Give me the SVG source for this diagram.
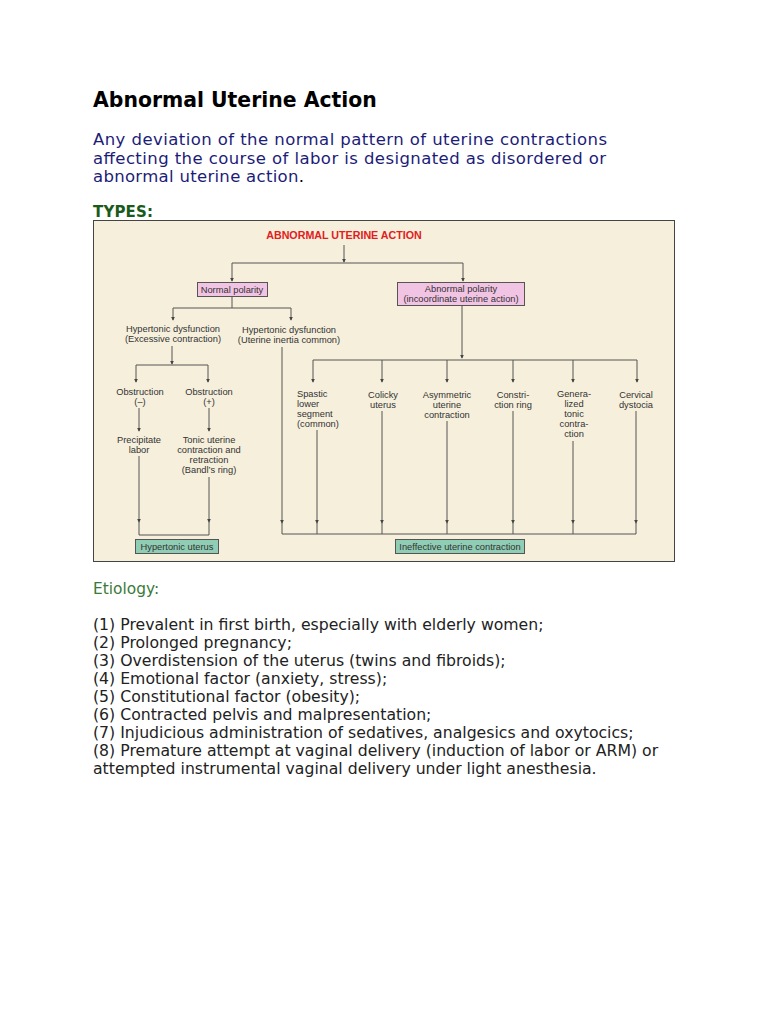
<svg xmlns="http://www.w3.org/2000/svg" width="768" height="1024" viewBox="0 0 768 1024">
<defs>
<marker id="ah" viewBox="0 0 6 6" refX="5" refY="3" markerWidth="4" markerHeight="4" orient="auto" markerUnits="userSpaceOnUse">
<path d="M0,0 L6,3 L0,6 z" fill="#444"/>
</marker>
<style>
.title{font-family:"DejaVu Sans",Verdana,sans-serif;font-weight:bold;font-size:20.4px;fill:#000}
.intro{font-family:"DejaVu Sans",Verdana,sans-serif;font-size:16.5px;fill:#1c1c78}
.types{font-family:"DejaVu Sans",Verdana,sans-serif;font-size:15px;font-weight:bold;fill:#1a5a1a}
.etio{font-family:"DejaVu Sans",Verdana,sans-serif;font-size:15.4px;fill:#3a7a3a}
.item{font-family:"DejaVu Sans",Verdana,sans-serif;font-size:15.7px;fill:#222}
.lbl{font-family:"Liberation Sans",Arial,sans-serif;font-size:9.3px;fill:#333;text-anchor:middle}
.lbll{font-family:"Liberation Sans",Arial,sans-serif;font-size:9.3px;fill:#333}
.head{font-family:"Liberation Sans",Arial,sans-serif;font-size:10.7px;font-weight:bold;fill:#e02020;text-anchor:middle}
.ln{stroke:#555;stroke-width:1;fill:none}
.arr{stroke:#555;stroke-width:1;fill:none;marker-end:url(#ah)}
.pink{fill:#f2c4e4;stroke:#555;stroke-width:1}
.teal{fill:#8fcdb4;stroke:#555;stroke-width:1}
</style>
</defs>
<rect width="768" height="1024" fill="#fff"/>
<text class="title" x="93" y="107">Abnormal Uterine Action</text>
<text class="intro" x="93" y="145" textLength="514" lengthAdjust="spacing">Any deviation of the normal pattern of uterine contractions</text>
<text class="intro" x="93" y="164" textLength="513" lengthAdjust="spacing">affecting the course of labor is designated as disordered or</text>
<text class="intro" x="93" y="182" textLength="211" lengthAdjust="spacing">abnormal uterine action<tspan fill="#000">.</tspan></text>
<text class="types" x="93" y="217" textLength="60" lengthAdjust="spacing">TYPES:</text>

<rect x="93.5" y="220.5" width="581" height="341" fill="#f6efdc" stroke="#444" stroke-width="1"/>

<g id="connectors">
<path class="arr" d="M344,245 V262"/>
<path class="ln" d="M232,263 H463"/>
<path class="arr" d="M232,263 V281"/>
<path class="arr" d="M463,263 V281"/>
<path class="ln" d="M232,297 V308 M173,308 H291"/>
<path class="arr" d="M173,308 V320"/>
<path class="arr" d="M291,308 V320"/>
<path class="arr" d="M172,346 V364"/>
<path class="ln" d="M136,365 H208"/>
<path class="arr" d="M136,365 V382"/>
<path class="arr" d="M208,365 V382"/>
<path class="arr" d="M139,408 V431"/>
<path class="arr" d="M209,408 V431"/>
<path class="arr" d="M139,456 V522"/>
<path class="arr" d="M209,477 V522"/>
<path class="ln" d="M139,522 V535 H209 V522"/>
<path class="arr" d="M462,306 V358"/>
<path class="ln" d="M313,360 H637"/>
<path class="arr" d="M313,360 V382"/>
<path class="arr" d="M382,360 V382"/>
<path class="arr" d="M447,360 V382"/>
<path class="arr" d="M513,360 V382"/>
<path class="arr" d="M573,360 V382"/>
<path class="arr" d="M637,360 V382"/>
<path class="arr" d="M282,347 V523"/>
<path class="arr" d="M317,430 V523"/>
<path class="arr" d="M382,411 V523"/>
<path class="arr" d="M447,421 V523"/>
<path class="arr" d="M513,411 V523"/>
<path class="arr" d="M573,441 V523"/>
<path class="arr" d="M636,411 V523"/>
<path class="ln" d="M282,523 V534 H636 V523 M317,523 V534 M382,523 V534 M447,523 V534 M513,523 V534 M573,523 V534"/>
</g>

<g id="n-root"><text class="head" x="344" y="239">ABNORMAL UTERINE ACTION</text></g>
<g id="n-normal"><rect class="pink" x="197.5" y="282.5" width="70" height="14"/><text class="lbl" x="232" y="293">Normal polarity</text></g>
<g id="n-abnormal"><rect class="pink" x="397.5" y="282.5" width="127" height="23"/><text class="lbl" x="461" y="292">Abnormal polarity</text><text class="lbl" x="461" y="302">(incoordinate uterine action)</text></g>
<g id="n-hyper1"><text class="lbl" x="173" y="332">Hypertonic dysfunction</text><text class="lbl" x="173" y="342">(Excessive contraction)</text></g>
<g id="n-hyper2"><text class="lbl" x="289" y="333">Hypertonic dysfunction</text><text class="lbl" x="289" y="343">(Uterine inertia common)</text></g>
<g id="n-obsneg"><text class="lbl" x="140" y="395">Obstruction</text><text class="lbl" x="140" y="405">(–)</text></g>
<g id="n-obspos"><text class="lbl" x="209" y="395">Obstruction</text><text class="lbl" x="209" y="405">(+)</text></g>
<g id="n-precip"><text class="lbl" x="139" y="443">Precipitate</text><text class="lbl" x="139" y="453">labor</text></g>
<g id="n-tonic"><text class="lbl" x="209" y="443">Tonic uterine</text><text class="lbl" x="209" y="453">contraction and</text><text class="lbl" x="209" y="463">retraction</text><text class="lbl" x="209" y="473">(Bandl’s ring)</text></g>
<g id="n-hyperut"><rect class="teal" x="135.5" y="539.5" width="83" height="14"/><text class="lbl" x="177" y="550">Hypertonic uterus</text></g>
<g id="n-spastic"><text class="lbll" x="297" y="397">Spastic</text><text class="lbll" x="297" y="407">lower</text><text class="lbll" x="297" y="417">segment</text><text class="lbll" x="297" y="427">(common)</text></g>
<g id="n-colicky"><text class="lbl" x="383" y="398">Colicky</text><text class="lbl" x="383" y="408">uterus</text></g>
<g id="n-asym"><text class="lbl" x="447" y="398">Asymmetric</text><text class="lbl" x="447" y="408">uterine</text><text class="lbl" x="447" y="418">contraction</text></g>
<g id="n-constr"><text class="lbl" x="513" y="398">Constri-</text><text class="lbl" x="513" y="408">ction ring</text></g>
<g id="n-gen"><text class="lbl" x="574" y="397">Genera-</text><text class="lbl" x="574" y="407">lized</text><text class="lbl" x="574" y="417">tonic</text><text class="lbl" x="574" y="427">contra-</text><text class="lbl" x="574" y="437">ction</text></g>
<g id="n-cerv"><text class="lbl" x="636" y="398">Cervical</text><text class="lbl" x="636" y="408">dystocia</text></g>
<g id="n-ineff"><rect class="teal" x="395.5" y="539.5" width="129" height="14"/><text class="lbl" x="460" y="550">Ineffective uterine contraction</text></g>

<text class="etio" x="93" y="594">Etiology:</text>
<text class="item" x="93" y="630">(1) Prevalent in first birth, especially with elderly women;</text>
<text class="item" x="93" y="648">(2) Prolonged pregnancy;</text>
<text class="item" x="93" y="666">(3) Overdistension of the uterus (twins and fibroids);</text>
<text class="item" x="93" y="684">(4) Emotional factor (anxiety, stress);</text>
<text class="item" x="93" y="702">(5) Constitutional factor (obesity);</text>
<text class="item" x="93" y="720">(6) Contracted pelvis and malpresentation;</text>
<text class="item" x="93" y="738">(7) Injudicious administration of sedatives, analgesics and oxytocics;</text>
<text class="item" x="93" y="756">(8) Premature attempt at vaginal delivery (induction of labor or ARM) or</text>
<text class="item" x="93" y="774">attempted instrumental vaginal delivery under light anesthesia.</text>
</svg>
